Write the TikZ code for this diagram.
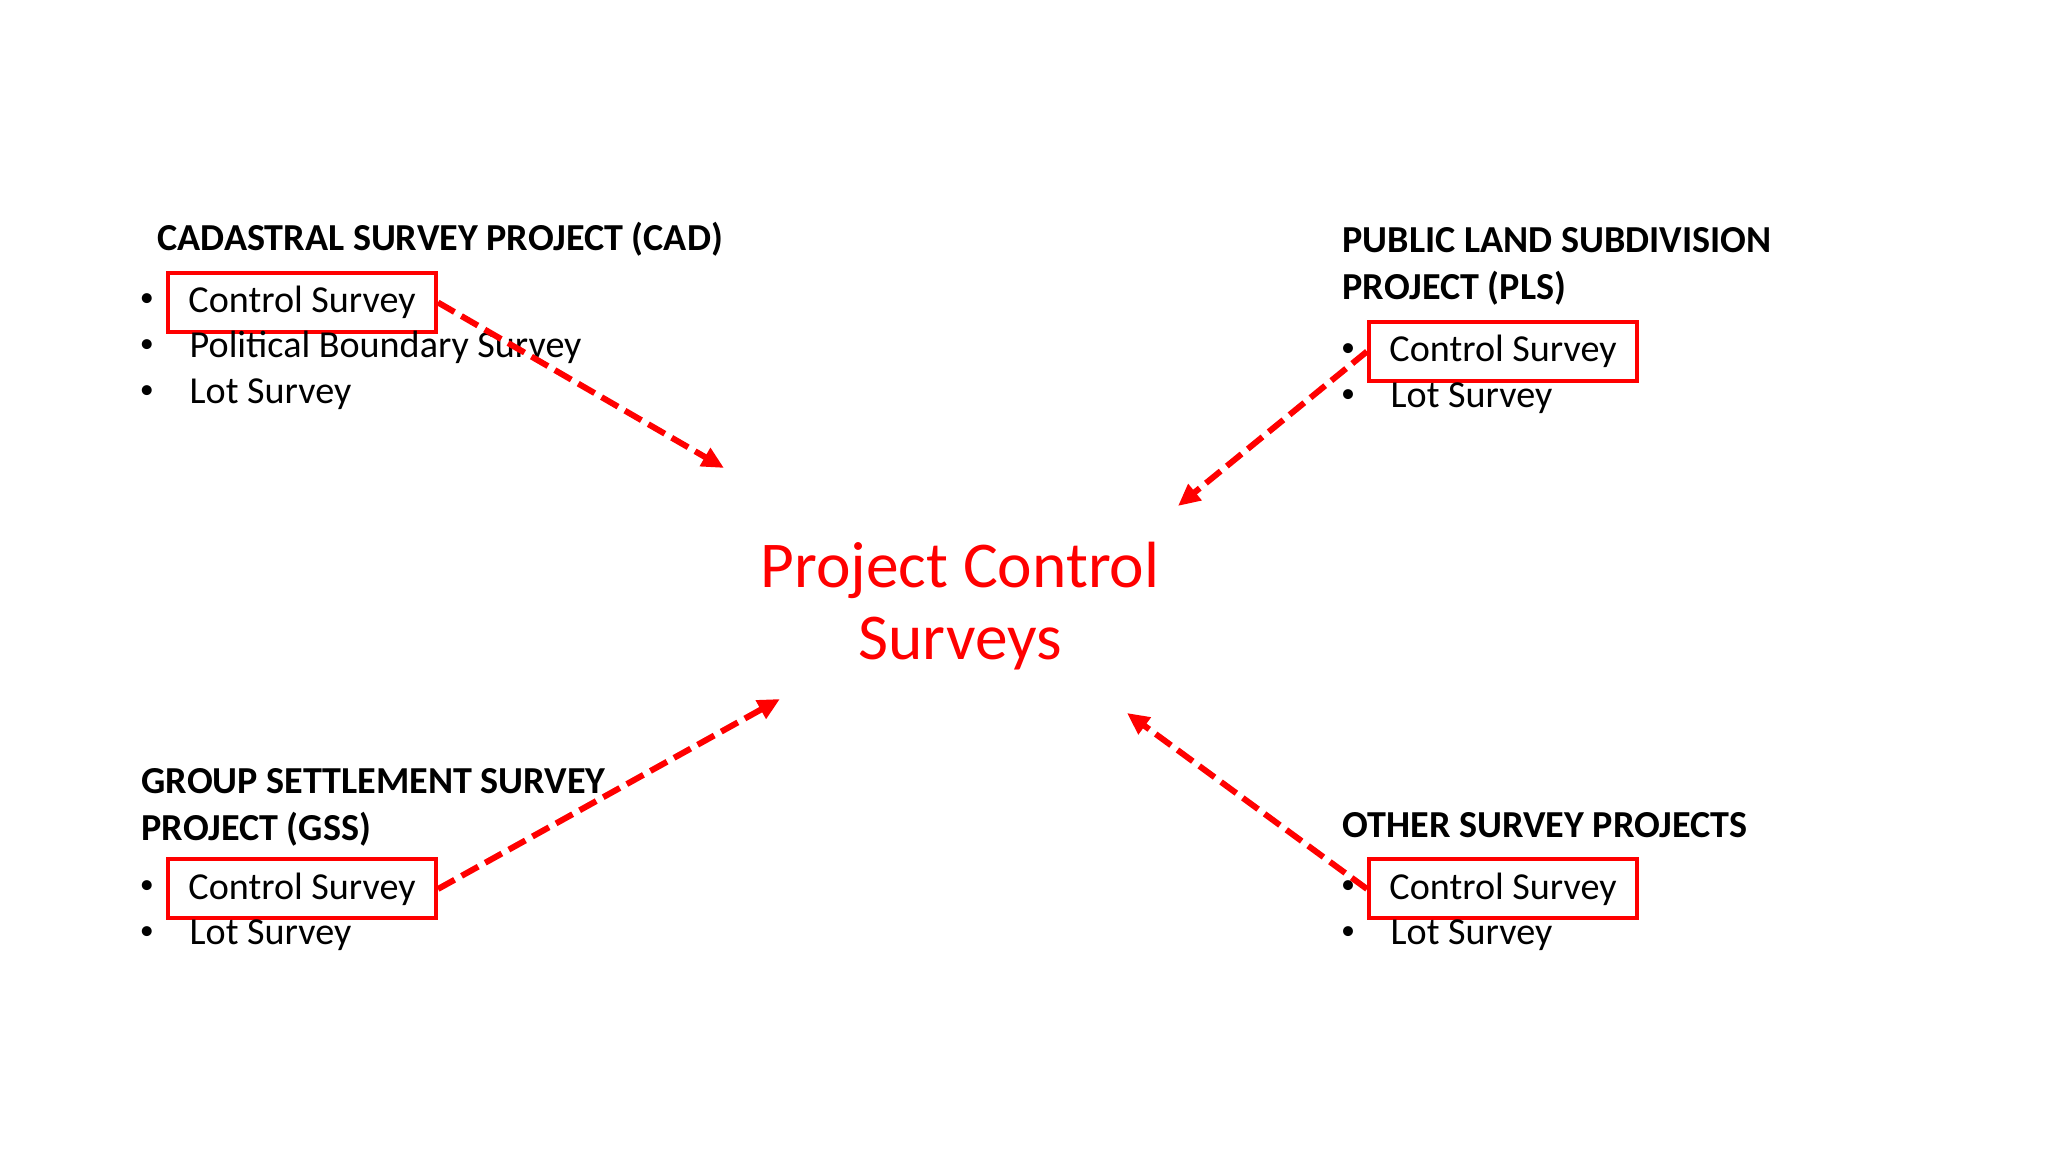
\documentclass[tikz,border=0pt]{standalone}
\usepackage{fontspec}
\setmainfont{Carlito}
\usetikzlibrary{arrows.meta}

\begin{document}
\begin{tikzpicture}[
  item/.style={inner sep=0pt, anchor=base west, font=\fontsize{10.85}{13.2}\selectfont},
  dot/.style={inner sep=0pt, anchor=center, font=\fontsize{8}{9}\selectfont},
  head/.style={inner sep=0pt, anchor=base west, align=left, font=\fontsize{10.85}{13.5}\selectfont\bfseries},
  box/.style={draw=red, line width=0.04cm, minimum width=2.68cm, minimum height=0.59cm, inner sep=0pt, font=\fontsize{10.85}{13.2}\selectfont},
  link/.style={red, line width=0.06cm, dash pattern=on 0.19cm off 0.08cm, -{Triangle[length=0.22cm,width=0.2cm]}}
]
\path [fill=white] (0,0) rectangle (20.48,11.52);

% cadastral
\node [head] at (1.57,9.01) {CADASTRAL SURVEY PROJECT (CAD)};
\node [dot] at (1.47,8.52) {\textbullet};
\node [dot] at (1.47,8.06) {\textbullet};
\node [dot] at (1.47,7.60) {\textbullet};
\node (a) [box] at (3.02,8.495) {Control Survey};
\node [item] at (1.89,7.94) {Political Boundary Survey};
\node [item] at (1.89,7.48) {Lot Survey};

% public land subdivision
\node [head] at (13.42,8.52) {PUBLIC LAND SUBDIVISION \\ PROJECT (PLS)};
\node [dot] at (13.48,8.02) {\textbullet};
\node [dot] at (13.48,7.56) {\textbullet};
\node (b) [box] at (15.03,8.005) {Control Survey};
\node [item] at (13.90,7.44) {Lot Survey};

% group settlement
\node [head] at (1.41,3.11) {GROUP SETTLEMENT SURVEY \\ PROJECT (GSS)};
\node [dot] at (1.47,2.65) {\textbullet};
\node [dot] at (1.47,2.19) {\textbullet};
\node (c) [box] at (3.02,2.63) {Control Survey};
\node [item] at (1.89,2.07) {Lot Survey};

% other
\node [head] at (13.42,3.14) {OTHER SURVEY PROJECTS};
\node [dot] at (13.48,2.65) {\textbullet};
\node [dot] at (13.48,2.19) {\textbullet};
\node (d) [box] at (15.03,2.63) {Control Survey};
\node [item] at (13.90,2.07) {Lot Survey};

% centre
\node (p) [red, inner sep=0pt, anchor=base, align=center, font=\fontsize{18.6}{20.5}\selectfont] at (9.60,4.92) {Project Control \\ Surveys};

\coordinate (pa) at (7.24,6.84);
\coordinate (pb) at (11.78,6.46);
\coordinate (pc) at (7.80,4.53);
\coordinate (pd) at (11.27,4.39);

\draw [link] (a.east) -- (pa);
\draw [link] (b.west) -- (pb);
\draw [link] (c.east) -- (pc);
\draw [link] (d.west) -- (pd);
\end{tikzpicture}
\end{document}
